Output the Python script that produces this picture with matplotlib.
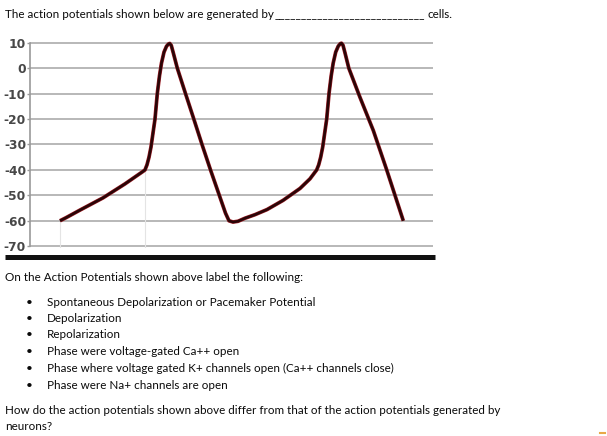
import matplotlib
matplotlib.use("Agg")
import matplotlib.pyplot as plt
from matplotlib.lines import Line2D

# ---- data ----
time = [30, 36, 50, 73, 95, 113, 115, 117, 119, 121, 123, 125, 127.3, 129.5, 131.5, 134, 136.5,
        138.5, 139.8, 141.3, 143.3, 147.3, 155.5, 163.8, 172, 180.5, 195.5, 199, 203, 208, 215, 225,
        237, 253, 270, 280, 286.7, 288.7, 290.7, 292.7, 294.7, 296.7, 299, 301.2, 303.2, 305.7,
        308.2, 310.2, 311.5, 313, 315, 318.8, 330, 343.3, 356.7, 373.3]
voltage = [-60, -58.8, -55.8, -51, -45.5, -40.6, -40, -38, -35, -31, -25.5, -20, -10, -3, 2,
           6.3, 8.6, 9.5, 9.7, 8.9, 6.0, 0, -10, -20, -30, -40, -57, -60, -60.5, -60.2, -59, -57.6,
           -55.6, -52, -47.3, -43.5, -40, -38, -35, -31, -25.5, -20, -10, -3, 2, 6.3,
           8.6, 9.6, 9.8, 9.0, 6.0, 0, -11.5, -24.5, -40, -60]
yticks = [10, 0, -10, -20, -30, -40, -50, -60, -70]
drop_idx = [0, 6]  # faint drop lines under the first point and the first threshold corner

title_left = "The action potentials shown below are generated by"
title_blank = "_" * 28
title_right = "cells."
intro = "On the Action Potentials shown above label the following:"
items = ["Spontaneous Depolarization or Pacemaker Potential",
         "Depolarization",
         "Repolarization",
         "Phase were voltage-gated Ca++ open",
         "Phase where voltage gated K+ channels open (Ca++ channels close)",
         "Phase were Na+ channels are open"]
question = ["How do the action potentials shown above differ from that of the action potentials generated by",
            "neurons?"]

W, H = 607, 436
fig = plt.figure(figsize=(W / 100, H / 100), dpi=100)
fig.patch.set_facecolor("white")

# axes placement in pixels
ylo, yhi = -70.6, 10.6
ppu = 25.45 / 10
top_px = 42.7 - (yhi - 10) * ppu
bot_px = 246.2 + (-70 - ylo) * ppu
left_px, right_px = 30, 433
ax = fig.add_axes([left_px / W, 1 - bot_px / H, (right_px - left_px) / W, (bot_px - top_px) / H])
ax.set_xlim(0, 403)
ax.set_ylim(ylo, yhi)
ax.set_facecolor("white")
for s in ["top", "right", "bottom"]:
    ax.spines[s].set_visible(False)
ax.spines["left"].set_color("#9a9a9a")
ax.spines["left"].set_linewidth(1.2)
ax.spines["left"].set_bounds(-70, 10)
ax.set_xticks([])
ax.set_yticks(yticks)
ax.set_yticklabels([str(v) for v in yticks], fontfamily="DejaVu Sans", fontweight="bold",
                   fontsize=8.8, color="#474747")
ax.tick_params(axis="y", length=2.5, width=1.0, color="#9a9a9a", pad=0.3)
for v in yticks:
    ax.axhline(v, color="#ababab", lw=1.2, zorder=1)

for i in drop_idx:
    ax.vlines(time[i], ylo, voltage[i], color="#e4e4e4", lw=0.8, zorder=1)

ax.plot(time, voltage, color="#a02028", lw=2.7, solid_joinstyle="round",
        solid_capstyle="butt", zorder=3)
ax.plot(time, voltage, color="#2a0507", lw=1.9, solid_joinstyle="round",
        solid_capstyle="butt", zorder=4)

# thick baseline below the chart
fig.add_artist(Line2D([5 / W, 435 / W], [1 - 256.5 / H, 1 - 256.5 / H], color="#111111", lw=3.6,
                      solid_capstyle="butt"))

def ftxt(x, y, s, **kw):
    fig.text(x / W, 1 - y / H, s, va="center", ha="left", fontfamily="Lato",
             fontsize=kw.pop("fontsize", 8.4), color="#0a0a0a", **kw)

ftxt(5, 15, title_left)
ftxt(275, 15, title_blank)
ftxt(428, 15, title_right)
ftxt(5, 277, intro)
ys = [302.7, 318.7, 334.7, 351.7, 368.7, 385]
for y, it in zip(ys, items):
    ftxt(26, y, "\u2022")
    ftxt(47, y, it)
ftxt(5, 410, question[0])
ftxt(5, 426.5, question[1])

fig.add_artist(Line2D([600 / W, 605 / W], [1 - 433 / H, 1 - 433 / H], color="#e8a848", lw=1.5))

fig.savefig("out.png", dpi=100, facecolor="white")
